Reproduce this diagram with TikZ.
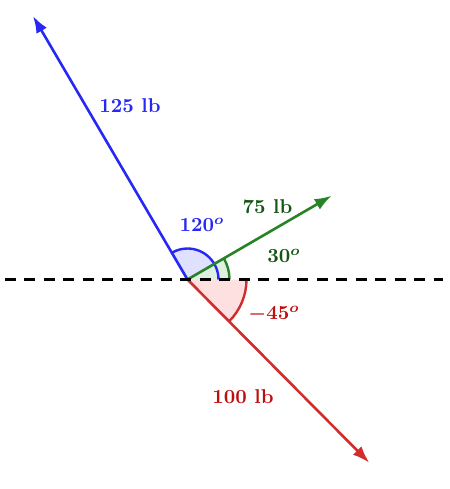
\documentclass[tikz,border=0pt]{standalone}
\usepackage{amsmath}
\usetikzlibrary{arrows.meta}
\definecolor{vblue}{RGB}{40,40,245}
\definecolor{vgreen}{RGB}{40,130,40}
\definecolor{lgreen}{RGB}{20,85,20}
\definecolor{vred}{RGB}{210,45,45}
\definecolor{lred}{RGB}{190,15,15}
\begin{document}
\begin{tikzpicture}[x=0.5pt,y=-0.5pt,
  vec/.style={line width=1.3pt,-{Latex[length=8.5pt,width=6pt]}},
  anglearc/.style={line width=1.2pt},
  lbl/.style={font=\bfseries}]
\useasboundingbox (0,0) rectangle (450,489);
\coordinate (O) at (187.5,279.5);
\coordinate (B) at (33,16);
\coordinate (G) at (331.7,195.7);
\coordinate (R) at (369.3,462.7);
\coordinate (L) at (5,279.5);
\coordinate (Rt) at (443,279.5);
% fills
\fill[blue!12] (O) -- ++(31,0) arc[start angle=0,end angle=-120,radius=31] -- cycle;
\fill[green!50!black!12] (O) -- ++(42,0) arc[start angle=0,end angle=-30,radius=42] -- cycle;
\fill[red!12] (O) -- ++(59,0) arc[start angle=0,end angle=45,radius=59] -- cycle;
% arcs
\draw[anglearc,vblue] ([xshift=15.5pt]O) arc[start angle=0,end angle=-120,radius=31];
\draw[anglearc,vgreen] ([xshift=21pt]O) arc[start angle=0,end angle=-30,radius=42];
\draw[anglearc,vred] ([xshift=29.5pt]O) arc[start angle=0,end angle=45,radius=59];
% vectors
\draw[vec,vblue] (O) -- (B);
\draw[vec,vgreen] (O) -- (G);
\draw[vec,vred] (O) -- (R);
% dashed axis
\draw[line width=1.3pt,dash pattern=on 5.5pt off 4.25pt] (L) -- (Rt);
% labels
\node[lbl,text=vblue] (lb1) at (130,105.5) {125 lb};
\node[lbl,text=vblue] (la1) at (202,225) {$\boldsymbol{120^o}$};
\node[lbl,text=lgreen] (lb2) at (267.5,207) {75 lb};
\node[lbl,text=lgreen] (la2) at (284,256) {$\boldsymbol{30^o}$};
\node[lbl,text=lred] (la3) at (274,314) {$\boldsymbol{-45^o}$};
\node[lbl,text=lred] (lb3) at (243,397) {100 lb};
\end{tikzpicture}
\end{document}
